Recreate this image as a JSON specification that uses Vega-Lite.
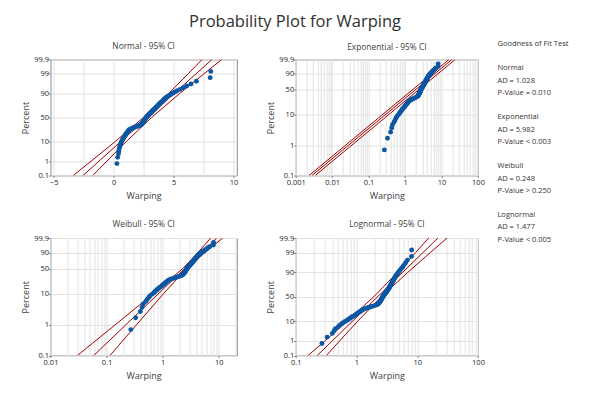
{
"$schema": "https://vega.github.io/schema/vega-lite/v6.json",
"padding": {"left": 20.5, "top": 13.5, "right": 5, "bottom": 5},
"title": {"text": "Probability Plot for Warping", "fontSize": 16.5, "fontWeight": "normal", "color": "#303030", "anchor": "middle", "offset": 9},
"datasets": {
"warping": [
{"Warping":0.27,"Percent":0.70},{"Warping":0.33,"Percent":1.69},{"Warping":0.40,"Percent":2.69},{"Warping":0.43,"Percent":3.69},{"Warping":0.45,"Percent":4.68},
{"Warping":0.50,"Percent":5.68},{"Warping":0.53,"Percent":6.67},{"Warping":0.57,"Percent":7.67},{"Warping":0.60,"Percent":8.67},{"Warping":0.65,"Percent":9.66},
{"Warping":0.70,"Percent":10.66},{"Warping":0.73,"Percent":11.65},{"Warping":0.78,"Percent":12.65},{"Warping":0.81,"Percent":13.65},{"Warping":0.85,"Percent":14.64},
{"Warping":0.90,"Percent":15.64},{"Warping":0.95,"Percent":16.63},{"Warping":0.98,"Percent":17.63},{"Warping":1.02,"Percent":18.63},{"Warping":1.06,"Percent":19.62},
{"Warping":1.10,"Percent":20.62},{"Warping":1.14,"Percent":21.61},{"Warping":1.18,"Percent":22.61},{"Warping":1.22,"Percent":23.61},{"Warping":1.26,"Percent":24.60},
{"Warping":1.30,"Percent":25.60},{"Warping":1.38,"Percent":26.59},{"Warping":1.48,"Percent":27.59},{"Warping":1.58,"Percent":28.59},{"Warping":1.68,"Percent":29.58},
{"Warping":1.80,"Percent":30.58},{"Warping":1.92,"Percent":31.57},{"Warping":2.05,"Percent":32.57},{"Warping":2.15,"Percent":33.57},{"Warping":2.22,"Percent":34.56},
{"Warping":2.28,"Percent":35.56},{"Warping":2.32,"Percent":36.55},{"Warping":2.36,"Percent":37.55},{"Warping":2.40,"Percent":38.55},{"Warping":2.43,"Percent":39.54},
{"Warping":2.46,"Percent":40.54},{"Warping":2.49,"Percent":41.53},{"Warping":2.52,"Percent":42.53},{"Warping":2.55,"Percent":43.53},{"Warping":2.57,"Percent":44.52},
{"Warping":2.60,"Percent":45.52},{"Warping":2.62,"Percent":46.51},{"Warping":2.65,"Percent":47.51},{"Warping":2.67,"Percent":48.51},{"Warping":2.70,"Percent":49.50},
{"Warping":2.73,"Percent":50.50},{"Warping":2.76,"Percent":51.49},{"Warping":2.80,"Percent":52.49},{"Warping":2.83,"Percent":53.49},{"Warping":2.87,"Percent":54.48},
{"Warping":2.91,"Percent":55.48},{"Warping":2.95,"Percent":56.47},{"Warping":2.99,"Percent":57.47},{"Warping":3.03,"Percent":58.47},{"Warping":3.08,"Percent":59.46},
{"Warping":3.12,"Percent":60.46},{"Warping":3.16,"Percent":61.45},{"Warping":3.20,"Percent":62.45},{"Warping":3.24,"Percent":63.45},{"Warping":3.28,"Percent":64.44},
{"Warping":3.32,"Percent":65.44},{"Warping":3.37,"Percent":66.43},{"Warping":3.41,"Percent":67.43},{"Warping":3.46,"Percent":68.43},{"Warping":3.50,"Percent":69.42},
{"Warping":3.54,"Percent":70.42},{"Warping":3.58,"Percent":71.41},{"Warping":3.63,"Percent":72.41},{"Warping":3.67,"Percent":73.41},{"Warping":3.72,"Percent":74.40},
{"Warping":3.77,"Percent":75.40},{"Warping":3.82,"Percent":76.39},{"Warping":3.87,"Percent":77.39},{"Warping":3.92,"Percent":78.39},{"Warping":3.98,"Percent":79.38},
{"Warping":4.04,"Percent":80.38},{"Warping":4.10,"Percent":81.37},{"Warping":4.16,"Percent":82.37},{"Warping":4.22,"Percent":83.37},{"Warping":4.28,"Percent":84.36},
{"Warping":4.35,"Percent":85.36},{"Warping":4.44,"Percent":86.35},{"Warping":4.55,"Percent":87.35},{"Warping":4.68,"Percent":88.35},{"Warping":4.80,"Percent":89.34},
{"Warping":4.95,"Percent":90.34},{"Warping":5.10,"Percent":91.33},{"Warping":5.30,"Percent":92.33},{"Warping":5.55,"Percent":93.33},{"Warping":5.80,"Percent":94.32},
{"Warping":6.10,"Percent":95.32},{"Warping":6.45,"Percent":96.31},{"Warping":6.90,"Percent":97.31},{"Warping":8.05,"Percent":98.31},{"Warping":8.10,"Percent":99.30}
],
"normalLines": [
{"line":"lower","Warping":-3.376,"Percent":0.1},{"line":"lower","Warping":-1.883,"Percent":1},{"line":"lower","Warping":0.130,"Percent":10},{"line":"lower","Warping":2.479,"Percent":50},{"line":"lower","Warping":4.590,"Percent":90},{"line":"lower","Warping":6.211,"Percent":99},{"line":"lower","Warping":7.378,"Percent":99.9},
{"line":"fit","Warping":-2.557,"Percent":0.1},{"line":"fit","Warping":2.82,"Percent":50},{"line":"fit","Warping":8.197,"Percent":99.9},
{"line":"upper","Warping":-1.738,"Percent":0.1},{"line":"upper","Warping":-0.571,"Percent":1},{"line":"upper","Warping":1.050,"Percent":10},{"line":"upper","Warping":3.161,"Percent":50},{"line":"upper","Warping":5.510,"Percent":90},{"line":"upper","Warping":7.523,"Percent":99},{"line":"upper","Warping":9.016,"Percent":99.9}
],
"expLines": [
{"line":"lower","Warping":0.002317,"Percent":0.1},{"line":"lower","Warping":16.0,"Percent":99.9},
{"line":"fit","Warping":0.002791,"Percent":0.1},{"line":"fit","Warping":19.27,"Percent":99.9},
{"line":"upper","Warping":0.003431,"Percent":0.1},{"line":"upper","Warping":23.69,"Percent":99.9}
],
"weibullLines": [
{"line":"lower","Warping":0.0302,"Percent":0.1},{"line":"lower","Warping":0.1422,"Percent":1},{"line":"lower","Warping":0.6851,"Percent":10},{"line":"lower","Warping":2.282,"Percent":50},{"line":"lower","Warping":4.245,"Percent":90},{"line":"lower","Warping":7.19,"Percent":99.9},
{"line":"fit","Warping":0.0589,"Percent":0.1},{"line":"fit","Warping":9.205,"Percent":99.9},
{"line":"upper","Warping":0.1150,"Percent":0.1},{"line":"upper","Warping":0.3411,"Percent":1},{"line":"upper","Warping":1.038,"Percent":10},{"line":"upper","Warping":2.681,"Percent":50},{"line":"upper","Warping":5.685,"Percent":90},{"line":"upper","Warping":11.78,"Percent":99.9}
],
"lognormalLines": [
{"line":"lower","Warping":0.160,"Percent":0.1},{"line":"lower","Warping":0.3013,"Percent":1},{"line":"lower","Warping":0.7093,"Percent":10},{"line":"lower","Warping":1.9253,"Percent":50},{"line":"lower","Warping":4.722,"Percent":90},{"line":"lower","Warping":9.404,"Percent":99},{"line":"lower","Warping":15.45,"Percent":99.9},
{"line":"fit","Warping":0.2265,"Percent":0.1},{"line":"fit","Warping":21.88,"Percent":99.9},
{"line":"upper","Warping":0.321,"Percent":0.1},{"line":"upper","Warping":0.5267,"Percent":1},{"line":"upper","Warping":1.0493,"Percent":10},{"line":"upper","Warping":2.5735,"Percent":50},{"line":"upper","Warping":6.985,"Percent":90},{"line":"upper","Warping":16.44,"Percent":99},{"line":"upper","Warping":30.99,"Percent":99.9}
],
"stats": [
{"line": 0, "txt": "Goodness of Fit Test"},
{"line": 2, "txt": "Normal"},
{"line": 3, "txt": "AD = 1.028"},
{"line": 4, "txt": "P-Value = 0.010"},
{"line": 6, "txt": "Exponential"},
{"line": 7, "txt": "AD = 5.982"},
{"line": 8, "txt": "P-Value < 0.003"},
{"line": 10, "txt": "Weibull"},
{"line": 11, "txt": "AD = 0.248"},
{"line": 12, "txt": "P-Value > 0.250"},
{"line": 14, "txt": "Lognormal"},
{"line": 15, "txt": "AD = 1.477"},
{"line": 16, "txt": "P-Value < 0.005"}
]
},
"columns": 2,
"spacing": {"row": 62.5, "column": 58.2},
"bounds": "flush",
"align": "each",
"concat": [
{
"title": {"text": "Normal - 95% CI", "frame": "group", "offset": 5.5},
"width": 186.3, "height": 116,
"layer": [
{"data": {"name": "normalLines"},
 "transform": [{"calculate": "quantileNormal(datum.Percent/100)", "as": "z"}],
 "mark": {"type": "line", "color": "#a00000", "strokeWidth": 1, "clip": true},
 "encoding": {
  "x": {"field": "Warping", "type": "quantitative", "scale": {"domain": [-5.27, 10.27], "nice": false, "zero": false},
        "axis": {"title": "Warping", "tickCount": 100, "values": [-5,-2.5,0,2.5,5,7.5,10], "labelExpr": "datum.value % 5 == 0 ? format(datum.value, 'd') : ''",
                 "tickColor": {"condition": {"test": "datum.value % 5 != 0", "value": "transparent"}, "value": "#808080"}}},
  "y": {"field": "z", "type": "quantitative", "scale": {"domain": [-3.090232, 3.090232], "nice": false, "zero": false},
        "axis": {"title": "Percent", "tickCount": 100, "values": [-3.090232,-2.326348,-1.281552,0,1.281552,2.326348,3.090232], "labelExpr": "format(100*cumulativeNormal(datum.value), '.1~f')"}},
  "detail": {"field": "line"}
 }},
{"data": {"name": "warping"},
 "transform": [{"calculate": "quantileNormal(datum.Percent/100)", "as": "z"}],
 "mark": {"type": "circle", "size": 24, "color": "#0b57a4", "opacity": 1},
 "encoding": {
  "x": {"field": "Warping", "type": "quantitative"},
  "y": {"field": "z", "type": "quantitative"}
 }}
]
},
{
"title": {"text": "Exponential - 95% CI", "frame": "group", "offset": -11.5},
"width": 182.3, "height": 116,
"resolve": {"scale": {"y": "independent"}},
"layer": [
{"layer": [
{"data": {"name": "expLines"},
 "transform": [{"calculate": "-log(1 - datum.Percent/100)", "as": "q"}],
 "mark": {"type": "line", "color": "#a00000", "strokeWidth": 1, "clip": true},
 "encoding": {
  "x": {"field": "Warping", "type": "quantitative", "scale": {"type": "log", "domain": [0.001, 100], "nice": false},
        "axis": {"title": "Warping", "tickCount": 100, "values": [0.001,0.002,0.003,0.004,0.005,0.006,0.007,0.008,0.009,0.01,0.02,0.03,0.04,0.05,0.06,0.07,0.08,0.09,0.1,0.2,0.3,0.4,0.5,0.6,0.7,0.8,0.9,1,2,3,4,5,6,7,8,9,10,20,30,40,50,60,70,80,90,100],
                 "labelExpr": "abs(log(datum.value)/LN10 - round(log(datum.value)/LN10)) < 0.01 ? format(datum.value, '~g') : ''",
                 "tickColor": {"condition": {"test": "abs(log(datum.value)/LN10 - round(log(datum.value)/LN10)) > 0.01", "value": "transparent"}, "value": "#808080"}}},
  "y": {"field": "q", "type": "quantitative", "scale": {"type": "log", "domain": [0.0010005, 6.9077553], "nice": false},
        "axis": {"title": "Percent", "orient": "left", "tickCount": 100, "values": [0.0010005,0.01005034,0.1053605,0.6931472,2.3025851,6.9077553], "labelExpr": "format(100*(1-exp(-datum.value)), '.1~f')"}},
  "detail": {"field": "line"}
 }},
{"data": {"name": "warping"},
 "transform": [{"calculate": "-log(1 - datum.Percent/100)", "as": "q"}],
 "mark": {"type": "circle", "size": 24, "color": "#0b57a4", "opacity": 1},
 "encoding": {
  "x": {"field": "Warping", "type": "quantitative"},
  "y": {"field": "q", "type": "quantitative"}
 }}
]},
{"data": {"name": "stats"},
 "mark": {"type": "text", "align": "left", "baseline": "middle", "fontSize": 7.5, "color": "#333333", "dx": 110.6},
 "encoding": {
  "y": {"field": "line", "type": "quantitative", "scale": {"domain": [1.2674, 10.7523], "reverse": true, "nice": false, "zero": false}, "axis": null},
  "text": {"field": "txt"}
 }}
]
},
{
"title": {"text": "Weibull - 95% CI", "frame": "group", "offset": 5.5},
"width": 186.3, "height": 117.5,
"layer": [
{"data": {"name": "weibullLines"},
 "transform": [{"calculate": "-log(1 - datum.Percent/100)", "as": "q"}],
 "mark": {"type": "line", "color": "#a00000", "strokeWidth": 1, "clip": true},
 "encoding": {
  "x": {"field": "Warping", "type": "quantitative", "scale": {"type": "log", "domain": [0.01, 21], "nice": false},
        "axis": {"title": "Warping", "tickCount": 100, "values": [0.01,0.02,0.03,0.04,0.05,0.06,0.07,0.08,0.09,0.1,0.2,0.3,0.4,0.5,0.6,0.7,0.8,0.9,1,2,3,4,5,6,7,8,9,10,20],
                 "labelExpr": "abs(log(datum.value)/LN10 - round(log(datum.value)/LN10)) < 0.01 ? format(datum.value, '~g') : ''",
                 "tickColor": {"condition": {"test": "abs(log(datum.value)/LN10 - round(log(datum.value)/LN10)) > 0.01", "value": "transparent"}, "value": "#808080"}}},
  "y": {"field": "q", "type": "quantitative", "scale": {"type": "log", "domain": [0.0010005, 6.9077553], "nice": false},
        "axis": {"title": "Percent", "tickCount": 100, "values": [0.0010005,0.01005034,0.1053605,0.6931472,2.3025851,6.9077553], "labelExpr": "format(100*(1-exp(-datum.value)), '.1~f')"}},
  "detail": {"field": "line"}
 }},
{"data": {"name": "warping"},
 "transform": [{"calculate": "-log(1 - datum.Percent/100)", "as": "q"}],
 "mark": {"type": "circle", "size": 24, "color": "#0b57a4", "opacity": 1},
 "encoding": {
  "x": {"field": "Warping", "type": "quantitative"},
  "y": {"field": "q", "type": "quantitative"}
 }}
]
},
{
"title": {"text": "Lognormal - 95% CI", "frame": "group", "offset": 5.5},
"width": 182.3, "height": 117.5,
"layer": [
{"data": {"name": "lognormalLines"},
 "transform": [{"calculate": "quantileNormal(datum.Percent/100)", "as": "z"}],
 "mark": {"type": "line", "color": "#a00000", "strokeWidth": 1, "clip": true},
 "encoding": {
  "x": {"field": "Warping", "type": "quantitative", "scale": {"type": "log", "domain": [0.1, 100], "nice": false},
        "axis": {"title": "Warping", "tickCount": 100, "values": [0.1,0.2,0.3,0.4,0.5,0.6,0.7,0.8,0.9,1,2,3,4,5,6,7,8,9,10,20,30,40,50,60,70,80,90,100],
                 "labelExpr": "abs(log(datum.value)/LN10 - round(log(datum.value)/LN10)) < 0.01 ? format(datum.value, '~g') : ''",
                 "tickColor": {"condition": {"test": "abs(log(datum.value)/LN10 - round(log(datum.value)/LN10)) > 0.01", "value": "transparent"}, "value": "#808080"}}},
  "y": {"field": "z", "type": "quantitative", "scale": {"domain": [-3.090232, 3.090232], "nice": false, "zero": false},
        "axis": {"title": "Percent", "tickCount": 100, "values": [-3.090232,-2.326348,-1.281552,0,1.281552,2.326348,3.090232], "labelExpr": "format(100*cumulativeNormal(datum.value), '.1~f')"}},
  "detail": {"field": "line"}
 }},
{"data": {"name": "warping"},
 "transform": [{"calculate": "quantileNormal(datum.Percent/100)", "as": "z"}],
 "mark": {"type": "circle", "size": 24, "color": "#0b57a4", "opacity": 1},
 "encoding": {
  "x": {"field": "Warping", "type": "quantitative"},
  "y": {"field": "z", "type": "quantitative"}
 }}
]
}
],
"config": {
  "font": "Open Sans",
  "view": {"stroke": "#8c8c8c", "strokeWidth": 1},
  "axis": {"gridColor": "#e2e2e2", "domain": false, "tickColor": "#808080", "tickSize": 2, "labelFontSize": 7.5, "labelColor": "#262626", "labelPadding": 0, "labelFlush": false, "labelOverlap": false, "titleFontSize": 9, "titleFontWeight": "normal", "titleColor": "#404040"},
  "axisX": {"titlePadding": 5, "labelPadding": 1},
  "axisY": {"titlePadding": 3},
  "title": {"fontSize": 8.4, "fontWeight": "normal", "color": "#404040"}
}
}
